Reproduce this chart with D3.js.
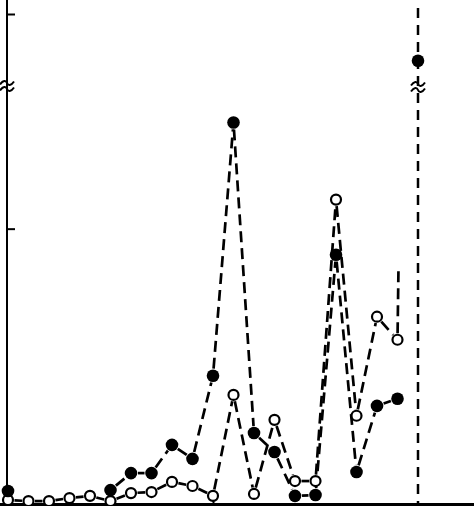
<!DOCTYPE html>
<html>
<head>
<meta charset="utf-8">
<script src="https://cdn.jsdelivr.net/npm/d3@7"></script>
<style>
  body { margin: 0; background: #fff; }
  svg { display: block; }
</style>
</head>
<body>
<svg id="chart"></svg>
<script>
// sample positions 0..20
var samples = d3.range(0, 21);
var filledVals = [0.44, null, null, null, null, 0.47, 1.09, 1.09, 2.12, 1.61, 4.64, 13.87, 2.55, 1.86, 0.26, 0.29, 9.05, 1.13, 3.54, 3.80, 23.5];
var openVals = [0.11, 0.07, 0.07, 0.18, 0.26, 0.07, 0.36, 0.40, 0.77, 0.62, 0.26, 3.94, 0.33, 3.03, 0.80, 0.80, 11.06, 3.18, 6.79, 5.95];
var openTail = [19, 8.6];       // dashed run going off upward from last open point
var lowTicks = [10];
var highTicks = [30];
var xTicks = [10];
var breakValue = 15.2;          // where the lower axis segment stops
var markerSample = 20;          // vertical dashed marker

var width = 474, height = 506;

var svg = d3.select('#chart')
  .attr('width', width)
  .attr('height', height);

var x = d3.scaleLinear().domain([0, 20]).range([8, 418]);
var yLow = d3.scaleLinear().domain([0, breakValue]).range([503, 86]);
var yHigh = d3.scaleLinear().domain([20, 30]).range([86, 14]);
var y = function(v){ return v > breakValue ? yHigh(v) : yLow(v); };

var ink = '#000';
var dash = '11,6';

// draw a segment between two markers, pulled back so it stops at the edges
var segment = function(p, q, r1, r2){
  var dx = q[0] - p[0], dy = q[1] - p[1];
  var L = Math.sqrt(dx*dx + dy*dy);
  return [p[0] + dx*r1/L, p[1] + dy*r1/L, q[0] - dx*r2/L, q[1] - dy*r2/L];
};

var drawSegments = function(vals, gap){
  var segs = [];
  for (var i = 0; i < vals.length - 1; i++) {
    var a = vals[i], b = vals[i+1];
    if (a == null || b == null) continue;
    if (a > breakValue || b > breakValue) continue;
    segs.push(segment([x(samples[i]), y(a)], [x(samples[i+1]), y(b)], gap, gap));
  }
  svg.append('g').selectAll('line')
    .data(segs)
    .enter().append('line')
    .attr('x1', function(d){ return d[0]; })
    .attr('y1', function(d){ return d[1]; })
    .attr('x2', function(d){ return d[2]; })
    .attr('y2', function(d){ return d[3]; })
    .attr('stroke', ink)
    .attr('stroke-width', 2.7)
    .attr('stroke-dasharray', dash);
};

// axes
svg.append('line')
  .attr('x1', 7).attr('x2', 7)
  .attr('y1', 0).attr('y2', 505)
  .attr('stroke', ink).attr('stroke-width', 2);

var yAxisLow = svg.append('g')
  .attr('transform', 'translate(7,0)')
  .call(d3.axisRight(yLow).tickValues(lowTicks).tickSize(8).tickFormat(''));
var yAxisHigh = svg.append('g')
  .attr('transform', 'translate(7,0)')
  .call(d3.axisRight(yHigh).tickValues(highTicks).tickSize(8).tickFormat(''));

svg.append('line')
  .attr('x1', 0).attr('x2', width)
  .attr('y1', 504.5).attr('y2', 504.5)
  .attr('stroke', ink).attr('stroke-width', 3);

var xAxis = svg.append('g')
  .attr('transform', 'translate(0,503)')
  .call(d3.axisTop(x).tickValues(xTicks).tickSize(8).tickFormat(''));

[yAxisLow, yAxisHigh, xAxis].forEach(function(g){
  g.select('.domain').remove();
  g.selectAll('.tick line').attr('stroke', ink).attr('stroke-width', 2);
});

// vertical dashed marker
svg.append('line')
  .attr('x1', x(markerSample)).attr('x2', x(markerSample))
  .attr('y1', 8).attr('y2', 503)
  .attr('stroke', ink)
  .attr('stroke-width', 2.5)
  .attr('stroke-dasharray', '10,7');

// break marks (≈)
var breakMark = function(cx, cy){
  var g = svg.append('g').attr('transform', 'translate(' + cx + ',' + cy + ')');
  [-3, 3].forEach(function(dy){
    g.append('path')
      .attr('d', 'M-7,' + (dy+1.5) + ' C-4,' + (dy-3) + ' -1,' + (dy-3) + ' 0,' + dy +
                 ' C1,' + (dy+3) + ' 4,' + (dy+3) + ' 7,' + (dy-1.5))
      .attr('fill', 'none')
      .attr('stroke', ink)
      .attr('stroke-width', 2);
  });
};
breakMark(7, yLow(breakValue));
breakMark(x(markerSample), yLow(breakValue) + 1);

// lines
drawSegments(filledVals, 7);
drawSegments(openVals, 6.5);

// open tail going up
var lastOpen = openVals[openVals.length - 1];
var tail = segment([x(openTail[0]), y(lastOpen)], [x(openTail[0]) + 1, yLow(openTail[1])], 6.5, 0);
svg.append('line')
  .attr('x1', tail[0]).attr('y1', tail[1])
  .attr('x2', tail[2]).attr('y2', tail[3])
  .attr('stroke', ink)
  .attr('stroke-width', 2.7)
  .attr('stroke-dasharray', dash);

// markers
var filledPts = samples.map(function(s, i){ return { s: s, v: filledVals[i] }; })
  .filter(function(d){ return d.v != null; });
var openPts = openVals.map(function(v, i){ return { s: samples[i], v: v }; });

svg.append('g').selectAll('circle')
  .data(openPts)
  .enter().append('circle')
  .attr('cx', function(d){ return x(d.s); })
  .attr('cy', function(d){ return y(d.v); })
  .attr('r', 5)
  .attr('fill', '#fff')
  .attr('stroke', ink)
  .attr('stroke-width', 2.2);

svg.append('g').selectAll('circle')
  .data(filledPts)
  .enter().append('circle')
  .attr('cx', function(d){ return x(d.s); })
  .attr('cy', function(d){ return y(d.v); })
  .attr('r', 6.3)
  .attr('fill', ink);
</script>
</body>
</html>
